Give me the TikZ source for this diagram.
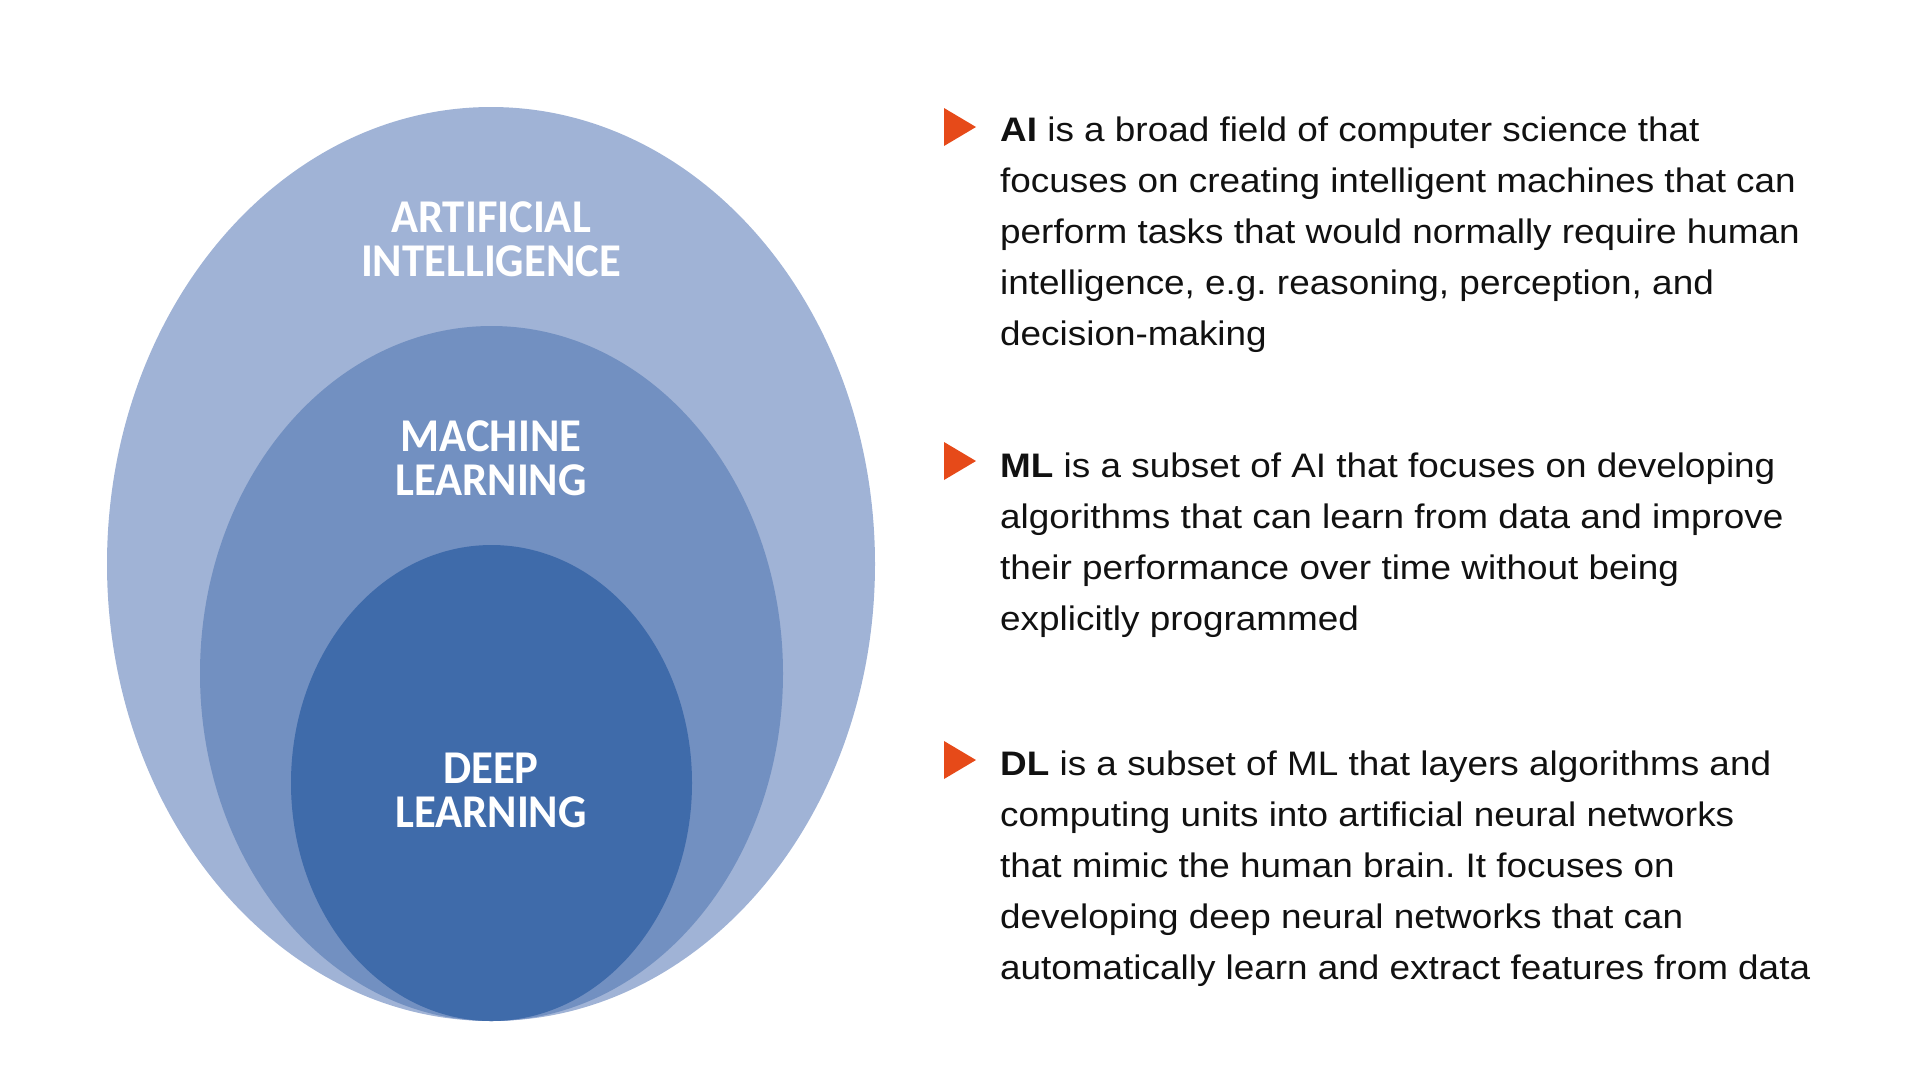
\documentclass[tikz,border=0pt]{standalone}
\usepackage{fontspec}
\setmainfont[FakeStretch=1.085]{Liberation Sans}
\newfontfamily\setfont[FakeStretch=0.95]{Carlito}
\usepackage{tikz}
\frenchspacing

\definecolor{aiblue}{HTML}{A0B3D6}
\definecolor{mlblue}{HTML}{7290C1}
\definecolor{dlblue}{HTML}{3F6BAA}
\definecolor{bulletred}{HTML}{E64A19}
\definecolor{textblack}{HTML}{111111}

\begin{document}
\begin{tikzpicture}[x=1pt,y=1pt,yscale=-1,xscale=1,
  setlabel/.style={font=\setfont\bfseries\fontsize{47}{44}\selectfont, text=white, align=center, inner sep=0pt},
  desc/.style={font=\fontsize{34}{51}\selectfont, text=textblack, align=left, anchor=north west, inner sep=0pt},
  bullet/.style={fill=bulletred}]
\useasboundingbox (0,0) rectangle (1920,1080);

% nested sets
\fill[aiblue] (491,564) ellipse (384 and 457);
\fill[mlblue] (491.5,673.5) ellipse (291.5 and 347.5);
\fill[dlblue] (491.5,783) ellipse (200.5 and 238);

\draw (491,239) node [setlabel] (ai) {ARTIFICIAL\\INTELLIGENCE};
\draw (491,458) node [setlabel] (ml) {MACHINE\\LEARNING};
\draw (491,790) node [setlabel] (dl) {DEEP\\LEARNING};

% bullets
\fill[bullet] (944,108) -- (976,127) -- (944,146) -- cycle;
\fill[bullet] (944,442) -- (976,461) -- (944,480) -- cycle;
\fill[bullet] (944,741) -- (976,760) -- (944,779) -- cycle;

\draw (1000,117) node [desc] (aitext) {\textbf{AI} is a broad field of computer science that\\focuses on creating intelligent machines that can\\perform tasks that would normally require human\\intelligence, e.g. reasoning, perception, and\\decision-making};
\draw (1000,453) node [desc] (mltext) {\textbf{ML} is a subset of AI that focuses on developing\\algorithms that can learn from data and improve\\their performance over time without being\\explicitly programmed};
\draw (1000,751) node [desc] (dltext) {\textbf{DL} is a subset of ML that layers algorithms and\\computing units into artificial neural networks\\that mimic the human brain. It focuses on\\developing deep neural networks that can\\automatically learn and extract features from data};
\end{tikzpicture}
\end{document}
